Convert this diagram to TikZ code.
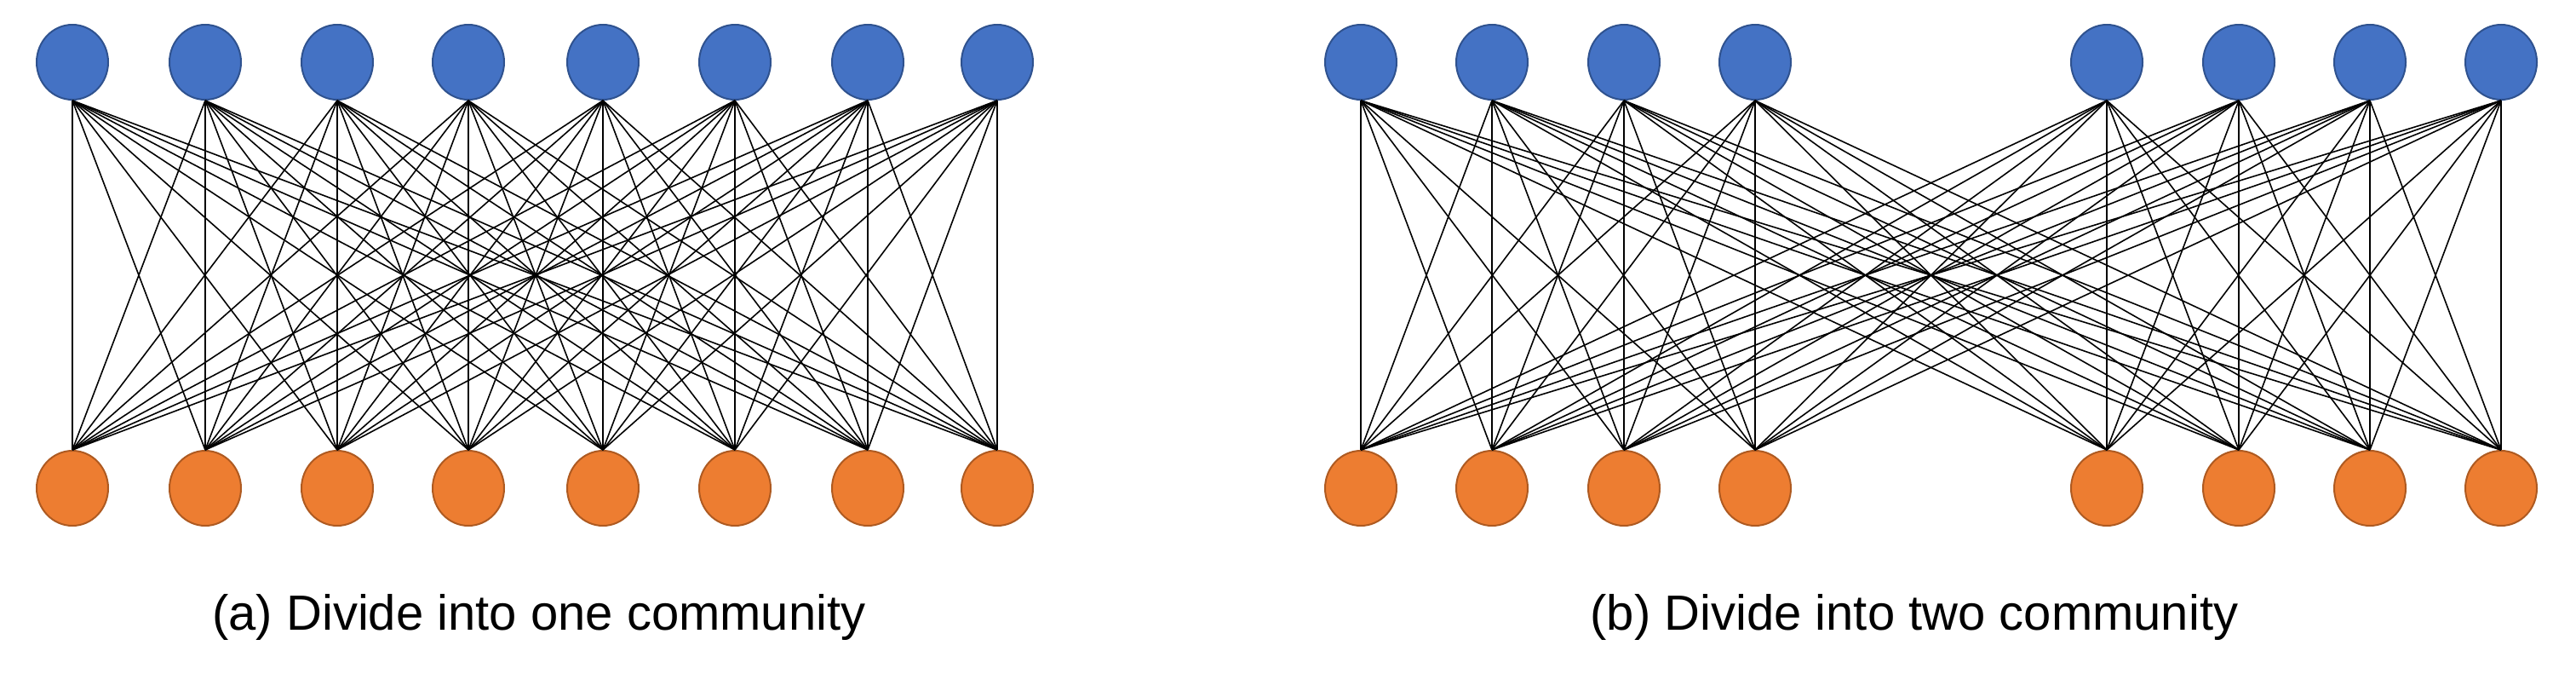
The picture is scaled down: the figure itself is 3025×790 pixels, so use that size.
\documentclass[tikz,border=0pt]{standalone}
\usepackage{fontspec}
\setmainfont{Liberation Sans}
\usetikzlibrary{shapes.geometric}
\definecolor{bl}{HTML}{4472C4}\definecolor{blb}{HTML}{2F528F}
\definecolor{or}{HTML}{ED7D31}\definecolor{orb}{HTML}{AE5A21}
\begin{document}
\begin{tikzpicture}[x=1pt,y=-1pt,
  top/.style={ellipse,draw=blb,fill=bl,line width=2pt,minimum width=84pt,minimum height=88pt,inner sep=0},
  bot/.style={ellipse,draw=orb,fill=or,line width=2pt,minimum width=84pt,minimum height=88pt,inner sep=0},
  edge/.style={line width=1.6pt,black},
  captxt/.style={font=\fontsize{58}{60}\selectfont}]
\useasboundingbox (0,0) rectangle (3025,790);
\foreach \x [count=\i] in {85,241,396,550,708,863,1019,1171}{
  \node[top] (a\i) at (\x,73) {};
  \node[bot] (c\i) at (\x,573) {};}
\foreach \x [count=\i] in {1598,1752,1907,2061,2474,2629,2783,2937}{
  \node[top] (b\i) at (\x,73) {};
  \node[bot] (d\i) at (\x,573) {};}
\foreach \i in {1,...,8}{\foreach \j in {1,...,8}{
  \draw[edge] (a\i.south) -- (c\j.north);
  \draw[edge] (b\i.south) -- (d\j.north);}}
\node[captxt] (ta) at (633,724) {(a) Divide into one community};
\node[captxt] (tb) at (2248,724) {(b) Divide into two community};
\end{tikzpicture}
\end{document}
